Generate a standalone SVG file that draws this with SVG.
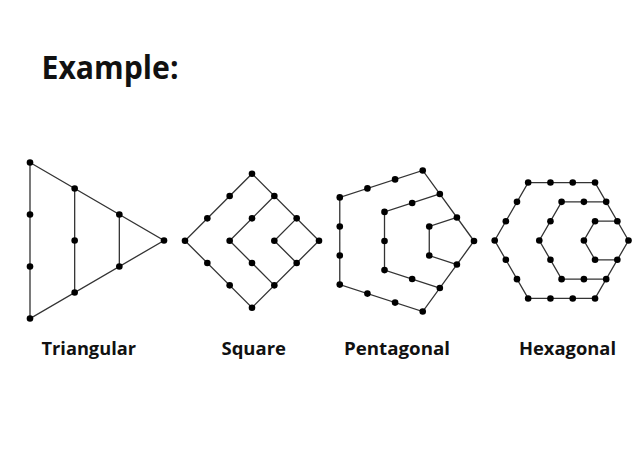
<svg xmlns="http://www.w3.org/2000/svg" width="638" height="451" viewBox="0 0 638 451">
<style>
.ln{fill:none;stroke:#333;stroke-width:1.3;stroke-linejoin:miter}
.d{fill:#000}
.t{font-family:"Open Sans","Liberation Sans",sans-serif;font-weight:bold;fill:#111}
</style>
<defs><circle id="dot" r="3.3" class="d"/></defs>
<rect width="638" height="451" fill="#fff"/>
<text class="t" x="41.5" y="79" font-size="33" textLength="137" lengthAdjust="spacingAndGlyphs">Example:</text>

<g id="connectors">
  <polygon class="ln" points="30,162.5 164,240.5 30,318.5"/>
  <line class="ln" x1="74.67" y1="188.5" x2="74.67" y2="292.5"/>
  <line class="ln" x1="119.33" y1="214.5" x2="119.33" y2="266.5"/>

  <polygon class="ln" points="252,173.7 319,240.7 252,307.7 185,240.7"/>
  <polyline class="ln" points="274.33,196.03 229.67,240.7 274.33,285.37"/>
  <polyline class="ln" points="296.67,218.37 274.33,240.7 296.67,263.03"/>

  <polygon class="ln" points="474,241 422.73,170.43 339.77,197.39 339.77,284.61 422.73,311.57"/>
  <polyline class="ln" points="439.82,193.95 384.51,211.92 384.51,270.08 439.82,288.05"/>
  <polyline class="ln" points="456.91,217.48 429.26,226.46 429.26,255.54 456.91,264.52"/>

  <polygon class="ln" points="628.5,240.5 595.05,182.56 528.15,182.56 494.7,240.5 528.15,298.44 595.05,298.44"/>
  <polyline class="ln" points="606.2,201.87 561.6,201.87 539.3,240.5 561.6,279.13 606.2,279.13"/>
  <polyline class="ln" points="617.35,221.19 595.05,221.19 583.9,240.5 595.05,259.81 617.35,259.81"/>
</g>

<g id="triangular">
  <use href="#dot" x="30" y="162.5"/><use href="#dot" x="30" y="214.5"/><use href="#dot" x="30" y="266.5"/><use href="#dot" x="30" y="318.5"/>
  <use href="#dot" x="74.67" y="188.5"/><use href="#dot" x="74.67" y="240.5"/><use href="#dot" x="74.67" y="292.5"/>
  <use href="#dot" x="119.33" y="214.5"/><use href="#dot" x="119.33" y="266.5"/>
  <use href="#dot" x="164" y="240.5"/>
  <text class="t" x="41.5" y="354.5" font-size="18" textLength="94.5" lengthAdjust="spacingAndGlyphs">Triangular</text>
</g>

<g id="square">
  <use href="#dot" x="252" y="173.7"/><use href="#dot" x="274.33" y="196.03"/><use href="#dot" x="296.67" y="218.37"/><use href="#dot" x="319" y="240.7"/>
  <use href="#dot" x="296.67" y="263.03"/><use href="#dot" x="274.33" y="285.37"/><use href="#dot" x="252" y="307.7"/>
  <use href="#dot" x="229.67" y="285.37"/><use href="#dot" x="207.33" y="263.03"/><use href="#dot" x="185" y="240.7"/>
  <use href="#dot" x="207.33" y="218.37"/><use href="#dot" x="229.67" y="196.03"/>
  <use href="#dot" x="252" y="218.37"/><use href="#dot" x="229.67" y="240.7"/><use href="#dot" x="252" y="263.03"/>
  <use href="#dot" x="274.33" y="240.7"/>
  <text class="t" x="221.5" y="354.5" font-size="18" textLength="64.5" lengthAdjust="spacingAndGlyphs">Square</text>
</g>

<g id="pentagonal">
  <use href="#dot" x="474" y="241"/><use href="#dot" x="422.73" y="170.43"/><use href="#dot" x="339.77" y="197.39"/><use href="#dot" x="339.77" y="284.61"/><use href="#dot" x="422.73" y="311.57"/>
  <use href="#dot" x="395.08" y="179.42"/><use href="#dot" x="367.42" y="188.4"/>
  <use href="#dot" x="339.77" y="226.46"/><use href="#dot" x="339.77" y="255.54"/>
  <use href="#dot" x="367.42" y="293.6"/><use href="#dot" x="395.08" y="302.58"/>
  <use href="#dot" x="439.82" y="288.05"/><use href="#dot" x="456.91" y="264.52"/>
  <use href="#dot" x="456.91" y="217.48"/><use href="#dot" x="439.82" y="193.95"/>
  <use href="#dot" x="412.17" y="202.94"/><use href="#dot" x="384.51" y="211.92"/><use href="#dot" x="384.51" y="241"/><use href="#dot" x="384.51" y="270.08"/><use href="#dot" x="412.17" y="279.06"/>
  <use href="#dot" x="429.26" y="226.46"/><use href="#dot" x="429.26" y="255.54"/>
  <text class="t" x="344" y="354.5" font-size="18" textLength="106" lengthAdjust="spacingAndGlyphs">Pentagonal</text>
</g>

<g id="hexagonal">
  <use href="#dot" x="628.5" y="240.5"/><use href="#dot" x="595.05" y="182.56"/><use href="#dot" x="528.15" y="182.56"/><use href="#dot" x="494.7" y="240.5"/><use href="#dot" x="528.15" y="298.44"/><use href="#dot" x="595.05" y="298.44"/>
  <use href="#dot" x="572.75" y="182.56"/><use href="#dot" x="550.45" y="182.56"/>
  <use href="#dot" x="517" y="201.87"/><use href="#dot" x="505.85" y="221.19"/>
  <use href="#dot" x="505.85" y="259.81"/><use href="#dot" x="517" y="279.13"/>
  <use href="#dot" x="550.45" y="298.44"/><use href="#dot" x="572.75" y="298.44"/>
  <use href="#dot" x="606.2" y="279.13"/><use href="#dot" x="617.35" y="259.81"/>
  <use href="#dot" x="617.35" y="221.19"/><use href="#dot" x="606.2" y="201.87"/>
  <use href="#dot" x="561.6" y="201.87"/><use href="#dot" x="583.9" y="201.87"/><use href="#dot" x="550.45" y="221.19"/><use href="#dot" x="539.3" y="240.5"/><use href="#dot" x="550.45" y="259.81"/><use href="#dot" x="561.6" y="279.13"/><use href="#dot" x="583.9" y="279.13"/>
  <use href="#dot" x="595.05" y="221.19"/><use href="#dot" x="583.9" y="240.5"/><use href="#dot" x="595.05" y="259.81"/>
  <text class="t" x="519" y="354.5" font-size="18" textLength="97" lengthAdjust="spacingAndGlyphs">Hexagonal</text>
</g>
</svg>
